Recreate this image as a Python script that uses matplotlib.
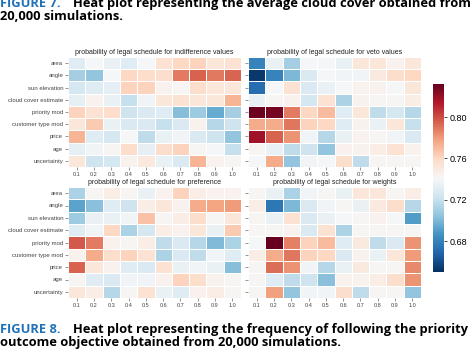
# Heat plots: probability of legal schedule, four panels with a shared colour bar
import numpy as np
import matplotlib.pyplot as plt

features = ['area', 'angle', 'sun elevation', 'cloud cover estimate', 'priority mod',
            'customer type mod', 'price', 'age', 'uncertainty']
steps = ['0.1', '0.2', '0.3', '0.4', '0.5', '0.6', '0.7', '0.8', '0.9', '1.0']

indifference = [
    [0.730, 0.740, 0.735, 0.730, 0.740, 0.755, 0.760, 0.762, 0.752, 0.755],
    [0.710, 0.705, 0.740, 0.760, 0.758, 0.757, 0.788, 0.795, 0.789, 0.794],
    [0.725, 0.730, 0.732, 0.762, 0.762, 0.745, 0.742, 0.757, 0.752, 0.752],
    [0.733, 0.745, 0.735, 0.720, 0.738, 0.752, 0.755, 0.752, 0.752, 0.772],
    [0.762, 0.755, 0.758, 0.722, 0.728, 0.730, 0.702, 0.708, 0.695, 0.710],
    [0.752, 0.765, 0.735, 0.728, 0.728, 0.720, 0.728, 0.745, 0.715, 0.722],
    [0.772, 0.730, 0.725, 0.740, 0.718, 0.735, 0.738, 0.728, 0.722, 0.705],
    [0.733, 0.738, 0.742, 0.758, 0.733, 0.757, 0.762, 0.742, 0.740, 0.720],
    [0.752, 0.722, 0.725, 0.745, 0.750, 0.735, 0.728, 0.772, 0.745, 0.742],
]
veto = [
    [0.680, 0.735, 0.710, 0.740, 0.740, 0.735, 0.752, 0.752, 0.745, 0.752],
    [0.653, 0.680, 0.700, 0.728, 0.740, 0.738, 0.738, 0.750, 0.757, 0.760],
    [0.672, 0.740, 0.755, 0.728, 0.735, 0.740, 0.745, 0.745, 0.740, 0.752],
    [0.735, 0.742, 0.745, 0.725, 0.755, 0.712, 0.745, 0.742, 0.742, 0.748],
    [0.830, 0.828, 0.788, 0.760, 0.770, 0.730, 0.752, 0.718, 0.725, 0.715],
    [0.775, 0.775, 0.790, 0.762, 0.760, 0.730, 0.745, 0.735, 0.752, 0.720],
    [0.818, 0.795, 0.782, 0.738, 0.715, 0.735, 0.745, 0.742, 0.738, 0.728],
    [0.742, 0.735, 0.718, 0.722, 0.705, 0.745, 0.745, 0.748, 0.755, 0.745],
    [0.740, 0.775, 0.705, 0.738, 0.740, 0.757, 0.718, 0.742, 0.742, 0.742],
]
preference = [
    [0.712, 0.742, 0.748, 0.742, 0.735, 0.745, 0.762, 0.748, 0.745, 0.745],
    [0.692, 0.703, 0.730, 0.722, 0.748, 0.752, 0.745, 0.775, 0.777, 0.780],
    [0.708, 0.735, 0.735, 0.738, 0.768, 0.742, 0.748, 0.757, 0.742, 0.752],
    [0.730, 0.738, 0.760, 0.712, 0.725, 0.748, 0.745, 0.752, 0.735, 0.765],
    [0.797, 0.788, 0.745, 0.742, 0.748, 0.718, 0.728, 0.715, 0.701, 0.712],
    [0.745, 0.775, 0.757, 0.762, 0.755, 0.712, 0.728, 0.718, 0.738, 0.730],
    [0.795, 0.752, 0.745, 0.730, 0.728, 0.755, 0.735, 0.738, 0.735, 0.702],
    [0.742, 0.730, 0.728, 0.738, 0.738, 0.745, 0.762, 0.757, 0.745, 0.742],
    [0.752, 0.748, 0.715, 0.742, 0.755, 0.735, 0.730, 0.745, 0.748, 0.742],
]
weights = [
    [0.742, 0.735, 0.712, 0.738, 0.742, 0.735, 0.752, 0.752, 0.742, 0.748],
    [0.748, 0.675, 0.700, 0.728, 0.738, 0.742, 0.735, 0.750, 0.757, 0.715],
    [0.742, 0.735, 0.755, 0.728, 0.735, 0.740, 0.742, 0.745, 0.740, 0.690],
    [0.742, 0.742, 0.745, 0.728, 0.755, 0.712, 0.742, 0.742, 0.742, 0.742],
    [0.740, 0.832, 0.787, 0.762, 0.770, 0.730, 0.750, 0.718, 0.728, 0.782],
    [0.748, 0.775, 0.790, 0.762, 0.760, 0.728, 0.745, 0.735, 0.752, 0.780],
    [0.742, 0.792, 0.782, 0.738, 0.715, 0.735, 0.750, 0.742, 0.742, 0.785],
    [0.742, 0.730, 0.718, 0.722, 0.703, 0.745, 0.745, 0.748, 0.757, 0.782],
    [0.742, 0.778, 0.705, 0.738, 0.738, 0.757, 0.718, 0.742, 0.742, 0.705],
]

titles = ['probability of legal schedule for indifference values',
          'probability of legal schedule for veto values',
          'probability of legal schedule for preference',
          'probability of legal schedule for weights']
panels = [indifference, veto, preference, weights]
cbar_ticks = [0.68, 0.72, 0.76, 0.80]

W, H = 474, 353
fig = plt.figure(figsize=(W / 100, H / 100), dpi=100)
fig.patch.set_facecolor('white')
plt.rcParams['font.family'] = ['Liberation Sans', 'DejaVu Sans']

def px_axes(x0, y0, x1, y1):
    return fig.add_axes([x0 / W, 1 - y1 / H, (x1 - x0) / W, (y1 - y0) / H])

boxes = [(68, 57, 241, 167), (248, 57, 421, 167), (68, 187, 241, 298), (248, 187, 421, 298)]
vmin, vmax = 0.650, 0.832
blue = '#1f72b8'

for i, (box, data, title) in enumerate(zip(boxes, panels, titles)):
    ax = px_axes(*box)
    arr = np.array(data)
    mesh = ax.pcolormesh(arr, cmap='RdBu_r', vmin=vmin, vmax=vmax,
                         edgecolors='white', linewidth=0.6)
    ax.set_xlim(0, len(steps))
    ax.set_ylim(len(features), 0)
    ax.set_xticks(np.arange(len(steps)) + 0.5)
    ax.set_xticklabels(steps, fontsize=4, color='#333333')
    ax.set_yticks(np.arange(len(features)) + 0.5)
    if i % 2 == 0:
        ax.set_yticklabels(features, fontsize=4.3, color='#222222')
    else:
        ax.set_yticklabels([])
    ax.tick_params(length=2, width=0.4, pad=1.5, colors='#444444')
    for s in ax.spines.values():
        s.set_visible(False)
    ax.set_title(title, fontsize=5, pad=2, color='#222222')

cax = px_axes(433, 84, 444, 272)
cb = fig.colorbar(mesh, cax=cax, ticks=cbar_ticks)
cb.outline.set_visible(False)
cb.ax.tick_params(labelsize=6.5, length=2.5, width=0.5, pad=1.5)
cb.ax.set_yticklabels(['%.2f' % t for t in cbar_ticks])

# captions (top one is clipped by the page crop, as in the source)
cap = dict(fontsize=9.3, fontweight='bold', family='Open Sans', va='baseline', ha='left')
fig.text(0 / W, 1 - 7 / H, 'FIGURE 7.', color=blue, **cap)
fig.text(73 / W, 1 - 7 / H, 'Heat plot representing the average cloud cover obtained from', color='black', **cap)
fig.text(0 / W, 1 - 20 / H, '20,000 simulations.', color='black', **cap)
fig.text(0 / W, 1 - 333 / H, 'FIGURE 8.', color=blue, **cap)
fig.text(73 / W, 1 - 333 / H, 'Heat plot representing the frequency of following the priority', color='black', **cap)
fig.text(0 / W, 1 - 346 / H, 'outcome objective obtained from 20,000 simulations.', color='black', **cap)

fig.savefig('out.png', dpi=100)
